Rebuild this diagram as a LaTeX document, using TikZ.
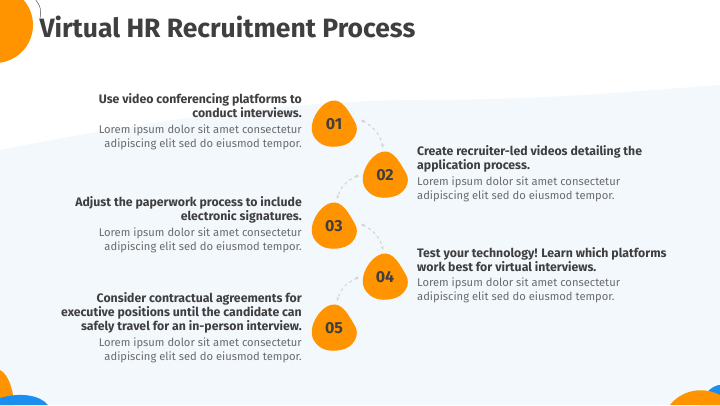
\documentclass[tikz,border=0pt]{standalone}
\usepackage{fontspec}
\setmainfont{Fira Sans}
\usetikzlibrary{arrows.meta}
\definecolor{org}{HTML}{FF9400}
\definecolor{bgb}{HTML}{F3F8FD}
\definecolor{dk}{HTML}{3F3F3F}
\definecolor{gr}{HTML}{6B6B6B}
\definecolor{bl}{HTML}{1A8FF0}
\begin{document}
\begin{tikzpicture}[x=1pt,y=-1pt,
 blob/.style={fill=org,draw=none},
 num/.style={font=\bfseries\fontsize{16}{16}\selectfont,text=dk},
 hd/.style={font=\bfseries\fontsize{12.3}{14}\selectfont,text=dk,inner sep=0pt},
 bd/.style={font=\fontsize{11.2}{13.2}\selectfont,text=gr,inner sep=0pt},
 dsh/.style={draw=gray!35,dashed,line width=1pt,-{Stealth[length=4pt]}}]
\useasboundingbox (0,0) rectangle (720,405);
\fill[white] (0,0) rectangle (720,405);
\fill[bgb] (0,150) .. controls (150,120) and (300,100) .. (420,100) .. controls (550,100) and (650,90) .. (720,85) -- (720,405) -- (0,405) -- cycle;
% corners
\fill[org] (-5,25) circle (38);
\draw[dk,line width=0.4pt] (30,-5) .. controls (40,2) and (42,10) .. (40,18);
\fill[org] (0,370) .. controls (10,375) and (14,395) .. (14,405) -- (0,405) -- cycle;
\fill[bl] (0,398) .. controls (20,392) and (40,395) .. (48,405) -- (0,405) -- cycle;
\fill[bl] (700,405) .. controls (705,390) and (715,385) .. (720,385) -- (720,405) -- cycle;
\fill[org] (670,405) .. controls (680,392) and (700,385) .. (720,395) -- (720,405) -- cycle;
\node[anchor=west,font=\bfseries\fontsize{26.5}{26.5}\selectfont,text=dk] (title) at (36,27) {Virtual HR Recruitment Process};
% blobs
\foreach \n/\x/\y in {1/334/124,2/385/175,3/334/226,4/385/277,5/334/328}{
 \fill[blob,shift={(\x,\y)},scale=1.1] (-19,10) .. controls (-24,0) and (-14,-18) .. (-3,-21)
   .. controls (8,-24) and (14,-10) .. (19,-2) .. controls (24,6) and (18,18) .. (6,20)
   .. controls (-4,22) and (-14,20) .. cycle;
 \node[num] (n\n) at (\x,\y) {0\n};
}
\coordinate (a1) at (363,121); \coordinate (b1) at (383,148);
\coordinate (a2) at (357,176); \coordinate (b2) at (337,199);
\coordinate (a3) at (363,225); \coordinate (b3) at (383,250);
\coordinate (a4) at (357,278); \coordinate (b4) at (337,301);
\foreach \i in {1,3}{\fill[gray!35] (a\i) circle (1.6); \draw[dsh] (a\i) to[bend left=25] (b\i);}
\foreach \i in {2,4}{\fill[gray!35] (a\i) circle (1.6); \draw[dsh] (a\i) to[bend right=25] (b\i);}
% texts left
\node[hd,anchor=north east,align=right] (h1) at (302,93) {Use video conferencing platforms to\\conduct interviews.};
\node[bd,anchor=north east,align=right] (t1) at (302,125) {Lorem ipsum dolor sit amet consectetur\\adipiscing elit sed do eiusmod tempor.};
\node[hd,anchor=north east,align=right] (h3) at (302,196) {Adjust the paperwork process to include\\electronic signatures.};
\node[bd,anchor=north east,align=right] (t3) at (302,228) {Lorem ipsum dolor sit amet consectetur\\adipiscing elit sed do eiusmod tempor.};
\node[hd,anchor=north east,align=right] (h5) at (302,292) {Consider contractual agreements for\\executive positions until the candidate can\\safely travel for an in-person interview.};
\node[bd,anchor=north east,align=right] (t5) at (302,338) {Lorem ipsum dolor sit amet consectetur\\adipiscing elit sed do eiusmod tempor.};
% texts right
\node[hd,anchor=north west,align=left] (h2) at (417,145) {Create recruiter-led videos detailing the\\application process.};
\node[bd,anchor=north west,align=left] (t2) at (417,177) {Lorem ipsum dolor sit amet consectetur\\adipiscing elit sed do eiusmod tempor.};
\node[hd,anchor=north west,align=left] (h4) at (417,247) {Test your technology! Learn which platforms\\work best for virtual interviews.};
\node[bd,anchor=north west,align=left] (t4) at (417,278) {Lorem ipsum dolor sit amet consectetur\\adipiscing elit sed do eiusmod tempor.};
\end{tikzpicture}
\end{document}
